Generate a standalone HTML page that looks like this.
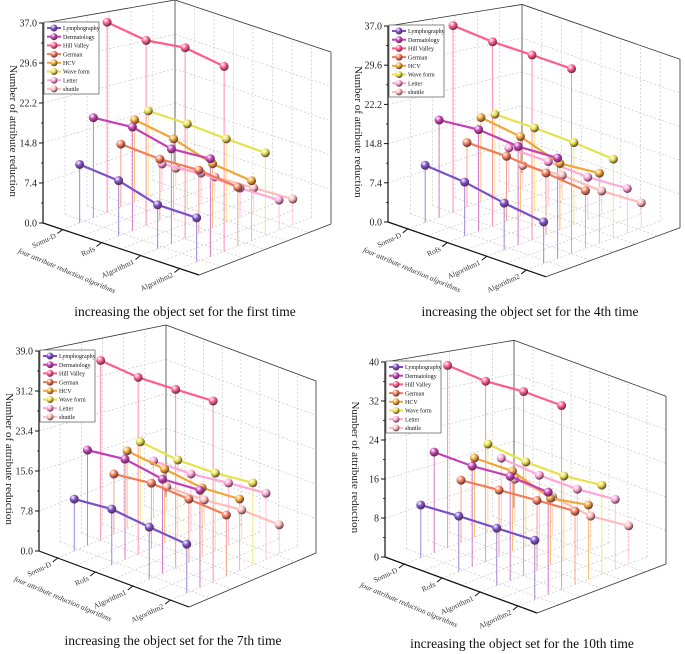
<!DOCTYPE html>
<html><head><meta charset="utf-8"><style>
html,body{margin:0;padding:0;background:#fff;}
svg{display:block;}
text{font-family:"Liberation Serif",serif;}
</style></head>
<body>
<svg id="fig" width="685" height="654" viewBox="0 0 685 654" xmlns="http://www.w3.org/2000/svg">
<defs id="defs"></defs>
</svg>
<script>
const categories = ["Somu-D", "Rofs", "Algorithm1", "Algorithm2"];
const seriesNames = ["Lymphography", "Dermatology", "Hill Valley", "German", "HCV", "Wave form", "Letter", "shuttle"];
const seriesColors = ["#7b4fc8", "#c43fb4", "#ff5c8c", "#f27c56", "#f0a635", "#e6e24a", "#ffa6da", "#ffbcbc"];

const panel1Values = [
  [11.0, 10.4, 8.3, 8.3],
  [19.1, 19.8, 18.1, 18.7],
  [36.9, 35.9, 37.0, 35.9],
  [12.4, 12.0, 12.4, 11.6],
  [16.4, 15.2, 12.8, 12.0],
  [17.4, 17.4, 17.0, 16.8],
  [5.6, 6.4, 6.0, 6.2],
  [3.7, 4.6, 5.0, 5.4]
];
const panel2Values = [
  [11.0, 10.4, 9.0, 8.0],
  [19.0, 19.8, 19.2, 19.6],
  [37.0, 36.5, 36.6, 36.6],
  [13.0, 13.0, 12.4, 11.6],
  [17.3, 16.2, 13.5, 14.3],
  [17.2, 17.2, 17.0, 16.4],
  [9.3, 9.3, 8.9, 9.4],
  [4.6, 5.4, 5.0, 5.4]
];
const panel3Values = [
  [10.3, 11.1, 10.3, 9.7],
  [19.2, 20.2, 19.0, 19.6],
  [36.7, 36.1, 36.5, 37.0],
  [12.5, 13.5, 13.1, 12.7],
  [16.4, 15.5, 14.5, 15.1],
  [17.4, 16.5, 16.7, 17.6],
  [12.3, 12.5, 13.6, 14.4],
  [5.5, 5.7, 6.6, 6.4]
];
const panel4Values = [
  [11.0, 11.6, 12.0, 12.4],
  [21.3, 21.3, 22.1, 21.7],
  [39.2, 38.8, 39.6, 39.6],
  [13.6, 14.5, 15.3, 16.0],
  [17.6, 17.8, 14.9, 16.5],
  [19.9, 19.0, 19.0, 20.1],
  [15.8, 15.1, 15.1, 16.0],
  [10.0, 9.1, 7.9, 8.9]
];
const panel1Ticks = ["0.0", "7.4", "14.8", "22.2", "29.6", "37.0"];
const panel2Ticks = ["0.0", "7.4", "14.8", "22.2", "29.6", "37.0"];
const panel3Ticks = ["0.0", "7.8", "15.6", "23.4", "31.2", "39.0"];
const panel4Ticks = ["0", "8", "16", "24", "32", "40"];
const panelMax = [37, 37, 39, 40];
const panelTitles = ["increasing the object set for the first time", "increasing the object set for the 4th time", "increasing the object set for the 7th time", "increasing the object set for the 10th time"];

const NS = "http://www.w3.org/2000/svg";
const svg = document.getElementById("fig");
const defs = document.getElementById("defs");

// sphere gradients
seriesColors.forEach((c, i) => {
  const g = document.createElementNS(NS, "radialGradient");
  g.setAttribute("id", "sph" + i);
  g.setAttribute("cx", "0.35"); g.setAttribute("cy", "0.3"); g.setAttribute("r", "0.75");
  const s1 = document.createElementNS(NS, "stop"); s1.setAttribute("offset", "0"); s1.setAttribute("stop-color", "#ffffff");
  const s2 = document.createElementNS(NS, "stop"); s2.setAttribute("offset", "0.45"); s2.setAttribute("stop-color", c);
  const s3 = document.createElementNS(NS, "stop"); s3.setAttribute("offset", "1"); s3.setAttribute("stop-color", "#4a2a3a");
  g.appendChild(s1); g.appendChild(s2); g.appendChild(s3);
  defs.appendChild(g);
});

function mk(tag, attrs, parent) {
  const e = document.createElementNS(NS, tag);
  for (const k in attrs) e.setAttribute(k, attrs[k]);
  (parent || svg).appendChild(e);
  return e;
}

const layouts = [
  {ox: 43, oy: 223, sx: 39, sy: 13, dx: 132, dy: -51, h: 200, tx: 185, ty: 316},
  {ox: 388, oy: 222, sx: 39.5, sy: 13.7, dx: 134, dy: -49, h: 196, tx: 530, ty: 316},
  {ox: 39, oy: 551, sx: 37.5, sy: 14, dx: 127, dy: -54, h: 200, tx: 173, ty: 645},
  {ox: 385, oy: 557, sx: 38, sy: 14, dx: 129, dy: -49, h: 195, tx: 522, ty: 648}
];
const panelValues = [panel1Values, panel2Values, panel3Values, panel4Values];
const panelTicks = [panel1Ticks, panel2Ticks, panel3Ticks, panel4Ticks];

function drawPanel(pi) {
  const L = layouts[pi], vals = panelValues[pi], ticks = panelTicks[pi], max = panelMax[pi];
  const g = mk("g", {});
  
  
  function P(a, d, z) {
    return [L.ox + a * 4 * L.sx + d * L.dx, L.oy + a * 4 * L.sy + d * L.dy - z / max * L.h * (1 - 0.14 * d)];
  }
  function line(p, q, st, w, dash, name) {
    const e = mk("line", {x1: p[0], y1: p[1], x2: q[0], y2: q[1], stroke: st, "stroke-width": w}, g);
    if (dash) e.setAttribute("stroke-dasharray", dash);
    
    
    return e;
  }
  const gridC = "#c8c8c8", dash = "2,2";
  // grids
  ticks.forEach((t, ti) => {
    const z = parseFloat(t);
    if (ti > 0) {
      line(P(0, 0, z), P(0, 1, z), gridC, 0.7, dash, 'grid-line');
      line(P(0, 1, z), P(1, 1, z), gridC, 0.7, dash, 'grid-line');
    }
  });
  for (let j = 1; j < 6; j++) {
    const d = j / 6;
    line(P(0, d, 0), P(0, d, max), gridC, 0.7, dash, 'grid-line');
    line(P(0, d, 0), P(1, d, 0), gridC, 0.7, dash, 'grid-line');
  }
  for (let j = 1; j < 8; j++) {
    const a = j / 8;
    line(P(a, 1, 0), P(a, 1, max), gridC, 0.7, dash, 'grid-line');
    line(P(a, 0, 0), P(a, 1, 0), gridC, 0.7, dash, 'grid-line');
  }
  // box
  line(P(0, 1, 0), P(0, 1, max), "#999", 1.5, null, 'back-edge');
  line(P(0, 0, max), P(0, 1, max), "#333", 0.8, null, 'box-edge');
  line(P(0, 1, max), P(1, 1, max), "#333", 0.8, null, 'box-edge');
  line(P(1, 1, 0), P(1, 1, max), "#333", 0.8, null, 'box-edge');
  line(P(1, 0, 0), P(1, 1, 0), "#333", 0.8, null, 'box-edge');
  line(P(0, 0, 0), P(1, 0, 0), "#111", 1.2, null, 'x-axis');
  line(P(0, 0, 0), P(0, 0, max), "#111", 1.2, null, 'y-axis');
  // y ticks
  ticks.forEach((t, ti) => {
    const z = parseFloat(t);
    const p = P(0, 0, z);
    line([p[0] - 4, p[1]], p, "#111", 1, null, 'y-tick');
    if (ti < ticks.length - 1) {
      const m = P(0, 0, z + max / 10);
      line([m[0] - 2, m[1]], m, "#111", 0.8, null, 'y-minor-tick');
    }
    const tx = mk("text", {x: p[0] - 6, y: p[1] + 3.5, "text-anchor": "end", "font-size": "10", fill: "#222", "font-family": "Liberation Mono, monospace"}, g);
    tx.textContent = t;
    
    
  });
  // y title
  const yt = mk("text", {x: 0, y: 0, "text-anchor": "middle", "font-size": "11", fill: "#222",
    transform: "translate(" + (L.ox - 33) + "," + (L.oy - L.h * 0.46) + ") rotate(90)"}, g);
  yt.textContent = "Number of attribute reduction";
  
  
  // category ticks and labels
  categories.forEach((c, k) => {
    const p = P((k + 0.5) / 4, 0, 0);
    line(p, [p[0] - 5, p[1] + 4], "#111", 1, null, 'x-tick');
    const tx = mk("text", {x: 0, y: 0, "text-anchor": "end", "font-size": "7.5", fill: "#333",
      transform: "translate(" + (p[0] - 6) + "," + (p[1] + 8) + ") rotate(-25)"}, g);
    tx.textContent = c;
    
    
  });
  const xt = mk("text", {x: 0, y: 0, "text-anchor": "middle", "font-size": "7.5", "font-style": "italic", fill: "#333",
    transform: "translate(" + (L.ox + 23) + "," + (L.oy + 50) + ") rotate(23)"}, g);
  xt.textContent = "four attribute reduction algorithms";
  
  
  // drop lines
  for (let i = seriesNames.length - 1; i >= 0; i--) {
    const d = 0.13 + 0.104 * i;
    vals[i].forEach((v, k) => {
      const a = (k + 0.5) / 4;
      const e = line(P(a, d, 0), P(a, d, v), seriesColors[i], 1, null, 'drop-line');
      e.setAttribute("stroke-opacity", "0.7");
    });
  }
  // series
  for (let i = seriesNames.length - 1; i >= 0; i--) {
    const d = 0.13 + 0.104 * i;
    const pts = vals[i].map((v, k) => P((k + 0.5) / 4, d, v));
    const pl = mk("polyline", {points: pts.map(p => p.join(",")).join(" "), fill: "none", stroke: seriesColors[i], "stroke-width": 2.2}, g);
    
    
    pts.forEach(p => {
      const c = mk("circle", {cx: p[0], cy: p[1], r: 4.5, fill: "url(#sph" + i + ")"}, g);
      
      
    });
  }
  // legend
  const lx = L.ox + 1, ly = L.oy - L.h - 1;
  const lg = mk("g", {}, g);
  
  
  const r = mk("rect", {x: lx, y: ly, width: 55, height: 72, fill: "#fff", stroke: "#555", "stroke-width": 0.7}, lg);
  
  
  seriesNames.forEach((n, i) => {
    const y = ly + 6 + i * 8.7;
    const l = mk("line", {x1: lx + 3, y1: y, x2: lx + 17, y2: y, stroke: seriesColors[i], "stroke-width": 2}, lg);
    
    
    const c = mk("circle", {cx: lx + 10, cy: y, r: 3.5, fill: "url(#sph" + i + ")"}, lg);
    
    
    const t = mk("text", {x: lx + 19, y: y + 2.2, "font-size": "6", fill: "#111"}, lg);
    t.textContent = n;
    
    
  });
  // title
  const tt = mk("text", {x: L.tx, y: L.ty, "text-anchor": "middle", "font-size": "13.5", fill: "#111"}, g);
  tt.textContent = panelTitles[pi];
  
  
}
for (let i = 0; i < 4; i++) drawPanel(i);
</script>
</body></html>
